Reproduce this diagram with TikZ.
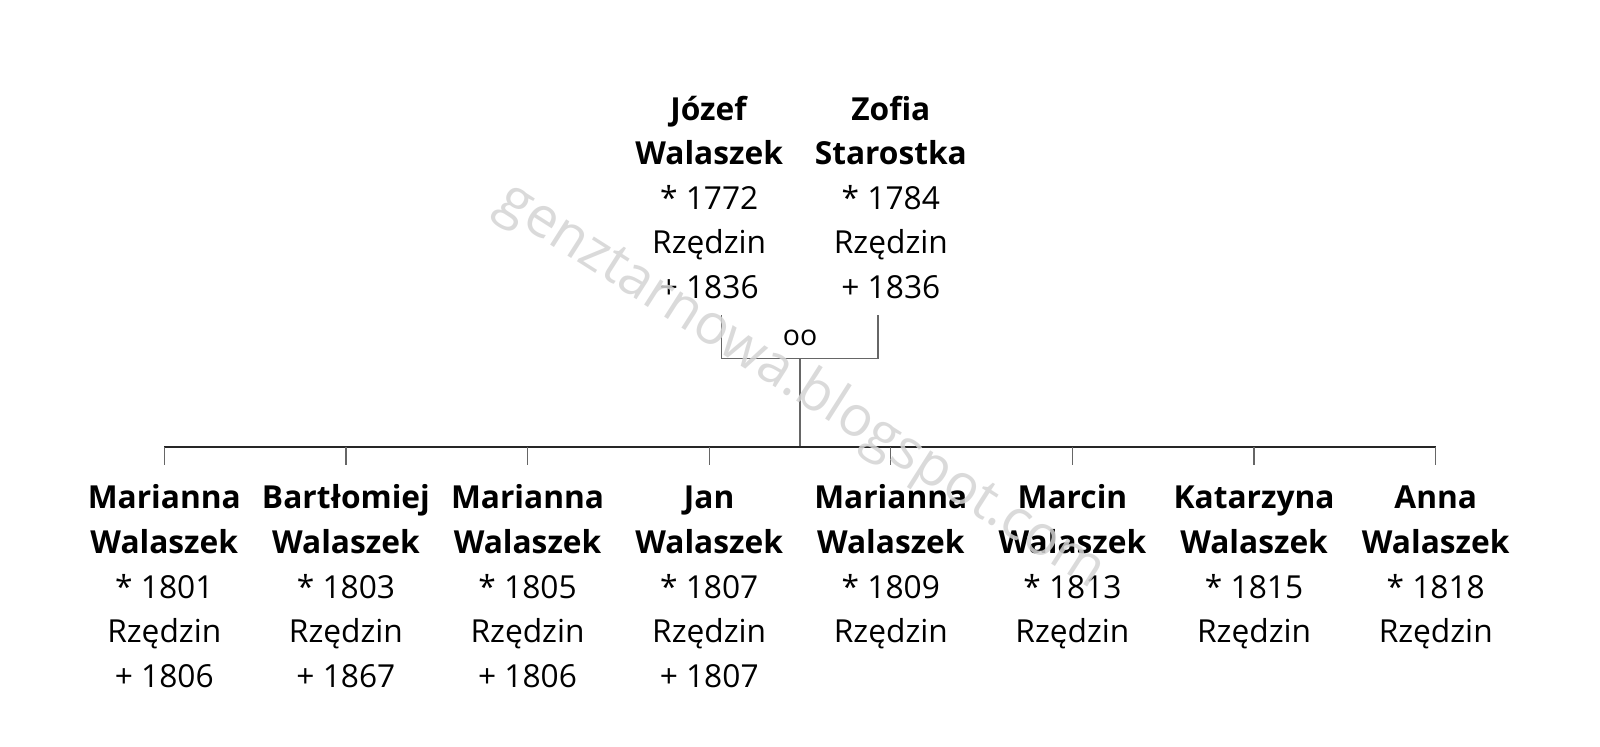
\documentclass[tikz,border=0pt]{standalone}
\usepackage{fontspec}
\setmainfont{Open Sans}
\begin{document}
\begin{tikzpicture}[x=1.0204pt,y=-1.0204pt,
  person/.style={align=center,inner sep=0pt,anchor=base,font=\fontsize{31.7}{44.6}\selectfont},
  link/.style={draw=black!60,line width=1.2pt},
  mainlink/.style={draw=black!85,line width=1.2pt},
  wm/.style={text=black!17,text opacity=0.85,font=\fontsize{56}{60}\selectfont,rotate=-32.5}]
\useasboundingbox (0,0) rectangle (1568,731.1);
\node[person] (p1) at (695,292.5) {\textbf{Józef}\\\textbf{Walaszek}\\* 1772\\Rzędzin\\+ 1836};
\node[person] (p2) at (873,292.5) {\textbf{Zofia}\\\textbf{Starostka}\\* 1784\\Rzędzin\\+ 1836};
\coordinate (bl) at (707,309);
\coordinate (br) at (860.5,309);
\coordinate (bbl) at (707,351);
\coordinate (bbr) at (860.5,351);
\coordinate (bm) at (784,351);
\coordinate (hm) at (784,438);
\node[font=\fontsize{28.5}{30}\selectfont,inner sep=0pt] (oo) at (784,331) {oo};
\draw[link] (bl) -- (bbl) -- (bbr) -- (br);
\draw[link] (bm) -- (hm);
\coordinate (hl) at (161,438);
\coordinate (hr) at (1407,438);
\draw[mainlink] (hl) -- (hr);
\foreach \i/\x/\n/\y/\d in {1/161/Marianna/1801/+ 1806,2/339/Bartłomiej/1803/+ 1867,3/517/Marianna/1805/+ 1806,4/695/Jan/1807/+ 1807,5/873/Marianna/1809/,6/1051/Marcin/1813/,7/1229/Katarzyna/1815/,8/1407/Anna/1818/}{
  \coordinate (t\i) at (\x,438);
  \coordinate (s\i) at (\x,456);
  \draw[link] (t\i) -- (s\i);
  \node[person] (c\i) at (\x,673.5) {\textbf{\n}\\\textbf{Walaszek}\\* \y\\Rzędzin\\\d};
}
\node[wm] (wmark) at (785,379) {genztarnowa.blogspot.com};
\end{tikzpicture}
\end{document}
